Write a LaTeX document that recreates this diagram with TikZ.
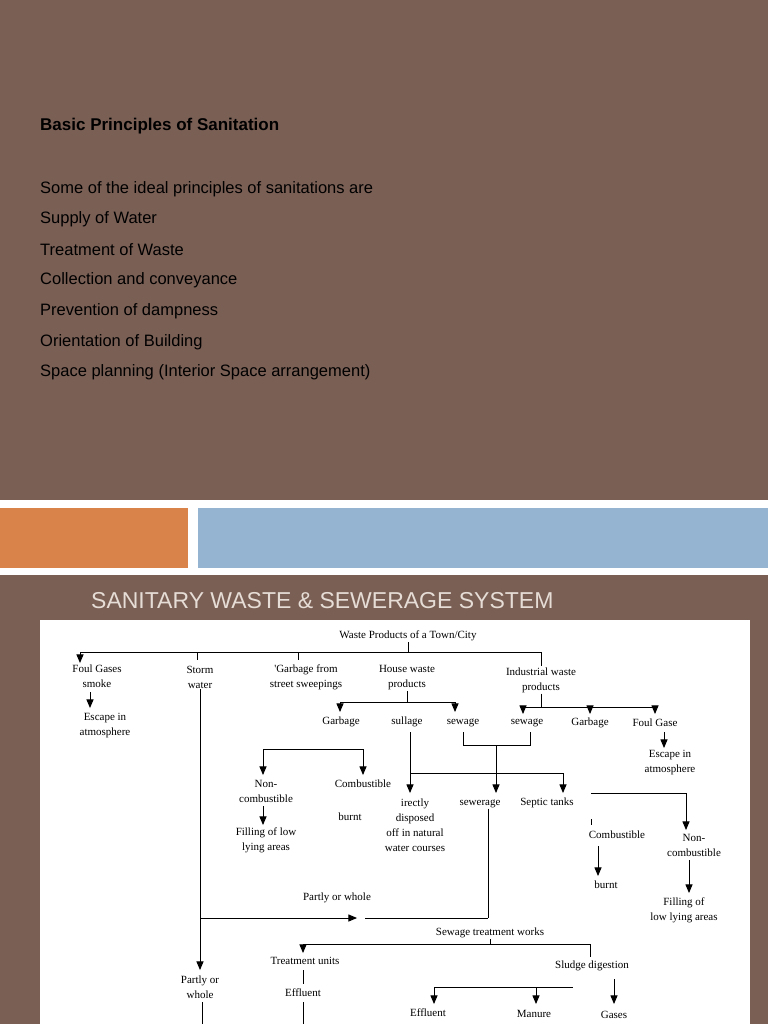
\documentclass[tikz,border=0pt]{standalone}
\usepackage{fontspec}
\setmainfont{Liberation Serif}
\newfontfamily\slidefont{Liberation Sans}
\usetikzlibrary{arrows}
\definecolor{slidebrown}{HTML}{7A5F55}
\definecolor{slideorange}{HTML}{D9824A}
\definecolor{slideblue}{HTML}{94B4D2}
\definecolor{titlegray}{HTML}{E6DDD6}
\tikzset{
  box/.style={align=center,inner sep=1pt,font=\fontsize{11}{15}\selectfont},
  wire/.style={line width=1pt,black},
  bullet/.style={right,inner sep=0pt,font=\slidefont\fontsize{16.5}{20}\selectfont}
}

\begin{document}
\begin{tikzpicture}
[>=triangle 45,x=1pt,y=-1pt]
	\useasboundingbox (0,0) rectangle (768,1024);
	\fill[slidebrown] (0,0) rectangle (768,1024);
	\fill[white] (0,500) rectangle (768,575);
	\fill[slideorange] (0,508) rectangle (188,568);
	\fill[slideblue] (198,508) rectangle (768,568);
	\fill[white] (40,620) rectangle (750,1024);
	
	% slide text
	\node[bullet,font=\slidefont\bfseries\fontsize{17}{20}\selectfont] (head) at (40,126) {Basic Principles of Sanitation};
	\node[bullet] (p0) at (40,189) {Some of the ideal principles of sanitations are};
	\node[bullet] (p1) at (40,219) {Supply of Water};
	\node[bullet] (p2) at (40,250) {Treatment of Waste};
	\node[bullet] (p3) at (40,280) {Collection and conveyance};
	\node[bullet] (p4) at (40,311) {Prevention of dampness};
	\node[bullet] (p5) at (40,342) {Orientation of Building};
	\node[bullet] (p6) at (40,372) {Space planning (Interior Space arrangement)};
	\node[right,inner sep=0pt,titlegray,font=\slidefont\fontsize{23}{26}\selectfont] (title) at (91,601) {SANITARY WASTE \& SEWERAGE SYSTEM};
	
	% chart nodes
	\node[box] (town) at (408,636) {Waste Products of a Town/City};
	\node[box] (fgas) at (97,676) {Foul Gases\\smoke};
	\node[box] (esc1) at (105,726) {Escape in\\atmosphere};
	\node[box] (storm) at (200,677) {Storm\\water};
	\node[box] (street) at (306,677) {{\textquotesingle}Garbage from\\street sweepings};
	\node[box] (house) at (407,678) {House waste\\products};
	\node[box] (ind) at (541,680) {Industrial waste\\products};
	\node[box,anchor=base] (garb1) at (341,724) {Garbage};
	\node[box,anchor=base] (sull) at (407,724) {sullage};
	\node[box,anchor=base] (sew1) at (463,724) {sewage};
	\node[box,anchor=base] (sew2) at (527,724) {sewage};
	\node[box,anchor=base] (garb2) at (590,725) {Garbage};
	\node[box,anchor=base] (fgas2) at (655,726) {Foul Gase};
	\node[box] (esc2) at (670,763) {Escape in\\atmosphere};
	\node[box] (noncomb) at (266,791) {Non-\\combustible};
	\node[box] (comb) at (363,784) {Combustible};
	\node[box] (burnt1) at (350,817) {burnt};
	\node[box] (fill1) at (266,840) {Filling of low\\lying areas};
	\node[box] (direct) at (415,825) {irectly\\disposed\\off in natural\\water courses};
	\node[box,anchor=base] (sewer) at (480,805) {sewerage};
	\node[box,anchor=base] (septic) at (547,805) {Septic tanks};
	\node[box] (comb2) at (617,835) {Combustible};
	\node[box] (burnt2) at (606,885) {burnt};
	\node[box] (noncomb2) at (694,845) {Non-\\combustible};
	\node[box] (fill2) at (684,910) {Filling of\\low lying areas};
	\node[box] (partly1) at (337,898) {Partly or whole};
	\node[box] (stw) at (490,933) {Sewage treatment works};
	\node[box] (tunits) at (305,961) {Treatment units};
	\node[box] (sludge) at (592,966) {Sludge digestion};
	\node[box] (partly2) at (200,987) {Partly or\\whole};
	\node[box] (eff1) at (303,993) {Effluent};
	\node[box] (eff2) at (428,1013) {Effluent};
	\node[box] (manure) at (534,1014) {Manure};
	\node[box] (gases) at (614,1015) {Gases};
	
	% junctions
	\coordinate (j1) at (408,652);
	\coordinate (j2) at (407,702);
	\coordinate (j3) at (541,707);
	\coordinate (j4) at (496,745);
	\coordinate (j5) at (496,773);
	\coordinate (j8) at (488,918);
	\coordinate (j9) at (200,918);
	\coordinate (j10) at (490,944);
	
	% connectors
	\draw[wire] (town) -- (j1);
	\draw[wire,->] (80,652) -- (80,663);
	\draw[wire] (80,652) -- (541,652);
	\draw[wire] (197,652) -- (197,660);
	\draw[wire] (298,652) -- (298,660);
	\draw[wire] (541,652) -- (ind.north);
	\draw[wire,->] (90,692) -- (90,708);
	\draw[wire] (house.south) -- (j2);
	\draw[wire] (340,702) -- (455,702);
	\draw[wire,->] (340,702) -- (340,712);
	\draw[wire,->] (455,702) -- (455,712);
	\draw[wire] (ind.south) -- (j3);
	\draw[wire] (523,707) -- (655,707);
	\draw[wire,->] (523,707) -- (523,714);
	\draw[wire,->] (590,707) -- (590,714);
	\draw[wire,->] (655,707) -- (655,714);
	\draw[wire,->] (664,732) -- (664,748);
	\draw[wire] (463,732) -- (463,745) -- (530,745) -- (530,732);
	\draw[wire] (j4) -- (j5);
	\draw[wire] (410,732) -- (410,773);
	\draw[wire] (410,773) -- (563,773);
	\draw[wire,->] (410,773) -- (410,793);
	\draw[wire,->] (j5) -- (496,793);
	\draw[wire,->] (563,773) -- (563,793);
	\draw[wire] (263,749) -- (363,749);
	\draw[wire,->] (263,749) -- (263,775);
	\draw[wire,->] (363,749) -- (363,775);
	\draw[wire,->] (263,806) -- (263,825);
	\draw[wire] (591,793) -- (686,793);
	\draw[wire] (591,819) -- (591,825);
	\draw[wire,->] (686,793) -- (686,830);
	\draw[wire,->] (598,846) -- (598,876);
	\draw[wire,->] (689,860) -- (689,893);
	\draw[wire] (j8 |- sewer.south) -- (j8);
	\draw[wire] (j9 |- storm.south) -- (j9);
	\draw[wire,->] (j9) -- (200,970);
	\draw[wire,->] (j9) -- (357,918);
	\draw[wire] (365,918) -- (j8);
	\draw[wire] (stw.south) -- (j10);
	\draw[wire] (303,944) -- (590,944);
	\draw[wire,->] (303,944) -- (303,953);
	\draw[wire] (590,944) -- (590,957);
	\draw[wire] (303,970) -- (303,984);
	\draw[wire] (303,1002) -- (303,1024);
	\draw[wire] (202,1002) -- (202,1024);
	\draw[wire] (434,987) -- (573,987);
	\draw[wire,->] (434,987) -- (434,1004);
	\draw[wire,->] (536,987) -- (536,1004);
	\draw[wire,->] (614,979) -- (614,1004);
\end{tikzpicture}
\end{document}
